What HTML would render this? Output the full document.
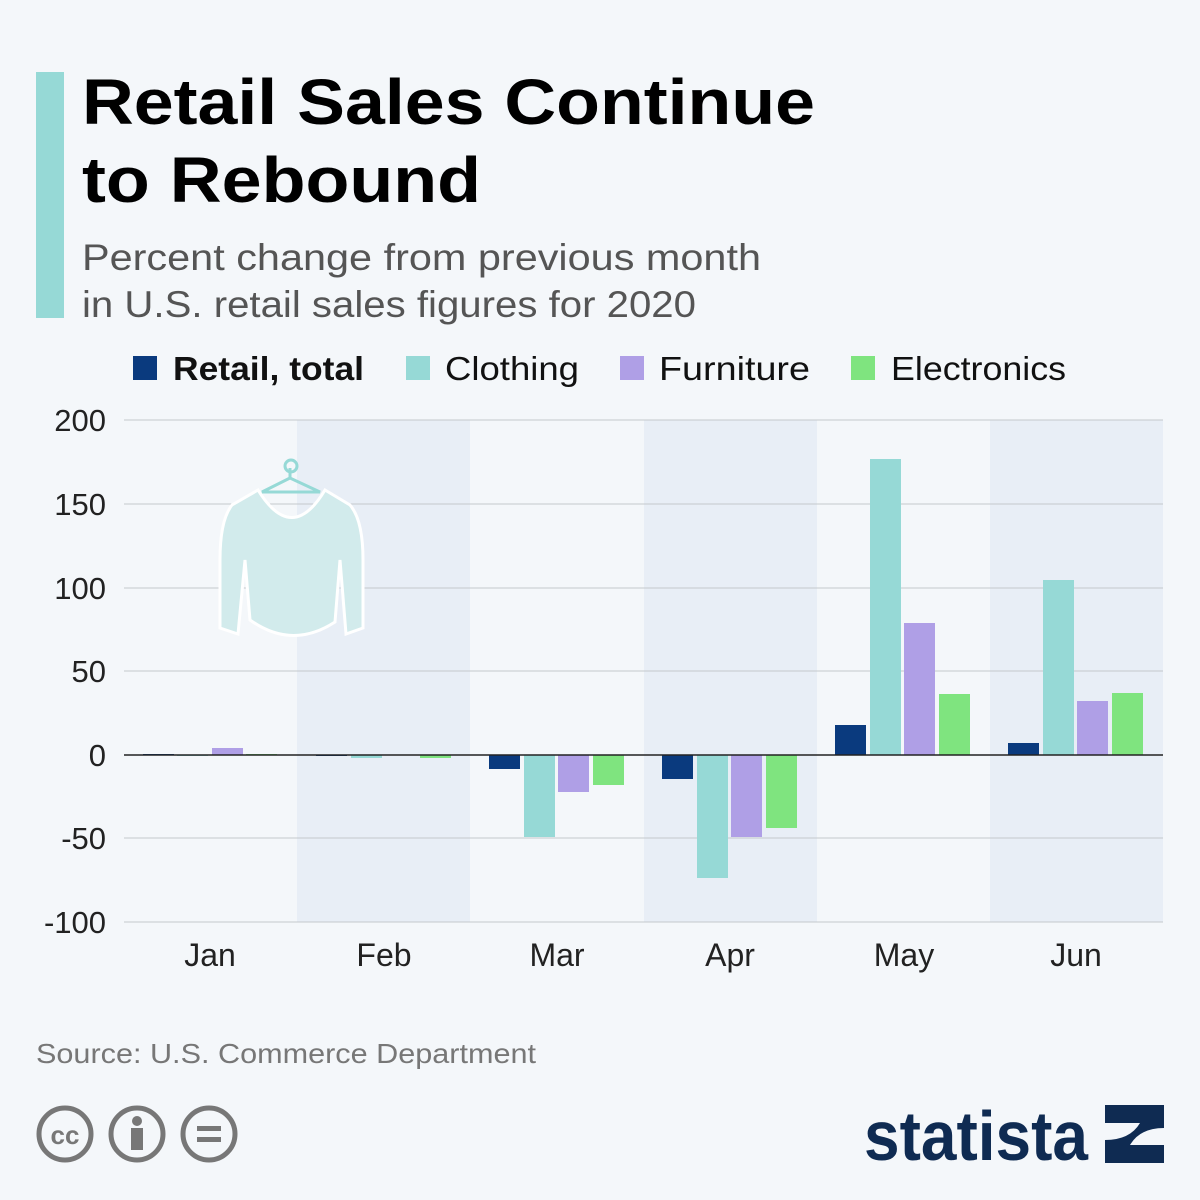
<!DOCTYPE html>
<html><head><meta charset="utf-8"><style>
body{margin:0;width:1200px;height:1200px;background:#f4f7fa;font-family:"Liberation Sans","DejaVu Sans",sans-serif;overflow:hidden}
</style></head><body>
<svg width="1200" height="1200" xmlns="http://www.w3.org/2000/svg" style="position:absolute;left:0;top:0">
<rect width="1200" height="1200" fill="#f4f7fa"/>
<rect x="36" y="72" width="28" height="246" fill="#96d9d6"/>
<text x="82" y="124" font-size="64" font-weight="bold" fill="#000" textLength="733" lengthAdjust="spacingAndGlyphs">Retail Sales Continue</text>
<text x="82" y="202" font-size="64" font-weight="bold" fill="#000" textLength="399" lengthAdjust="spacingAndGlyphs">to Rebound</text>
<text x="82" y="270" font-size="37" fill="#555" textLength="679" lengthAdjust="spacingAndGlyphs">Percent change from previous month</text>
<text x="82" y="317" font-size="37" fill="#555" textLength="614" lengthAdjust="spacingAndGlyphs">in U.S. retail sales figures for 2020</text>
<rect x="133" y="356" width="24" height="24" fill="#0a3a7e"/>
<text x="173" y="380" font-size="33" font-weight="bold" fill="#111" textLength="191" lengthAdjust="spacingAndGlyphs">Retail, total</text>
<rect x="406" y="356" width="24" height="24" fill="#96d9d6"/>
<text x="445" y="380" font-size="33" fill="#111" textLength="134" lengthAdjust="spacingAndGlyphs">Clothing</text>
<rect x="620" y="356" width="24" height="24" fill="#af9fe6"/>
<text x="659" y="380" font-size="33" fill="#111" textLength="151" lengthAdjust="spacingAndGlyphs">Furniture</text>
<rect x="851" y="356" width="24" height="24" fill="#7fe47f"/>
<text x="891" y="380" font-size="33" fill="#111" textLength="175" lengthAdjust="spacingAndGlyphs">Electronics</text>
<rect x="297" y="420" width="173" height="502" fill="#e8eef6"/>
<rect x="644" y="420" width="173" height="502" fill="#e8eef6"/>
<rect x="990" y="420" width="173" height="502" fill="#e8eef6"/>
<g stroke="#c4c8cc" stroke-width="1">
<line x1="124" x2="1163" y1="420" y2="420"/><line x1="124" x2="1163" y1="504" y2="504"/>
<line x1="124" x2="1163" y1="588" y2="588"/><line x1="124" x2="1163" y1="671" y2="671"/>
<line x1="124" x2="1163" y1="838" y2="838"/><line x1="124" x2="1163" y1="922" y2="922"/>
</g>
<g font-size="31" fill="#222" text-anchor="end">
<text x="106" y="431">200</text><text x="106" y="515">150</text><text x="106" y="599">100</text>
<text x="106" y="682">50</text><text x="106" y="766">0</text><text x="106" y="849">-50</text><text x="106" y="933">-100</text>
</g>
<g font-size="32" fill="#222" text-anchor="middle">
<text x="210" y="966">Jan</text><text x="384" y="966">Feb</text><text x="557" y="966">Mar</text>
<text x="730" y="966">Apr</text><text x="904" y="966">May</text><text x="1076" y="966">Jun</text>
</g>
<g stroke="#fff" stroke-width="3" fill="#d2ebec">
<path d="M258 490 L232 505 Q220 520 220 560 L220 628 L238 634 L245 560 L250 620 Q292 650 335 622 L340 560 L346 634 L363 628 L363 560 Q363 520 350 505 L325 490 Q292 545 258 490Z"/>
<path d="M290 478 L262 492 L320 492 Z M290 478 L290 468" fill="none" stroke="#96d9d6"/>
<circle cx="291" cy="466" r="6" fill="none" stroke="#96d9d6"/>
</g>
<g>
<rect x="143" y="754" width="31" height="1" fill="#0a3a7e"/>
<rect x="177" y="755" width="31" height="1" fill="#96d9d6"/>
<rect x="212" y="748" width="31" height="7" fill="#af9fe6"/>
<rect x="246" y="754" width="31" height="1" fill="#7fe47f"/>
<rect x="316" y="755" width="31" height="1" fill="#0a3a7e"/>
<rect x="351" y="755" width="31" height="3" fill="#96d9d6"/>
<rect x="420" y="755" width="31" height="3" fill="#7fe47f"/>
<rect x="489" y="755" width="31" height="14" fill="#0a3a7e"/>
<rect x="524" y="755" width="31" height="82" fill="#96d9d6"/>
<rect x="558" y="755" width="31" height="37" fill="#af9fe6"/>
<rect x="593" y="755" width="31" height="30" fill="#7fe47f"/>
<rect x="662" y="755" width="31" height="24" fill="#0a3a7e"/>
<rect x="697" y="755" width="31" height="123" fill="#96d9d6"/>
<rect x="731" y="755" width="31" height="82" fill="#af9fe6"/>
<rect x="766" y="755" width="31" height="73" fill="#7fe47f"/>
<rect x="835" y="725" width="31" height="30" fill="#0a3a7e"/>
<rect x="870" y="459" width="31" height="296" fill="#96d9d6"/>
<rect x="904" y="623" width="31" height="132" fill="#af9fe6"/>
<rect x="939" y="694" width="31" height="61" fill="#7fe47f"/>
<rect x="1008" y="743" width="31" height="12" fill="#0a3a7e"/>
<rect x="1043" y="580" width="31" height="175" fill="#96d9d6"/>
<rect x="1077" y="701" width="31" height="54" fill="#af9fe6"/>
<rect x="1112" y="693" width="31" height="62" fill="#7fe47f"/>
</g>
<line x1="124" x2="1163" y1="755" y2="755" stroke="#222" stroke-width="1.5"/>
<text x="36" y="1063" font-size="28" fill="#777" textLength="500" lengthAdjust="spacingAndGlyphs">Source: U.S. Commerce Department</text>
<g stroke="#777" stroke-width="5" fill="none">
<circle cx="65" cy="1134" r="26"/><circle cx="137" cy="1134" r="26"/><circle cx="209" cy="1134" r="26"/>
</g>
<text x="65" y="1144" font-size="26" font-weight="bold" fill="#777" text-anchor="middle">cc</text>
<circle cx="137" cy="1121" r="5" fill="#777"/><rect x="131" y="1128" width="12" height="22" fill="#777"/>
<rect x="197" y="1126" width="24" height="5" fill="#777"/><rect x="197" y="1137" width="24" height="5" fill="#777"/>
<text x="864" y="1160" font-size="70" font-weight="bold" fill="#0f2b52" textLength="224" lengthAdjust="spacingAndGlyphs">statista</text>
<path d="M1105 1105 H1164 V1128 Q1140 1128 1130 1145 L1164 1145 V1163 H1105 V1140 Q1130 1140 1140 1123 L1105 1123Z" fill="#0f2b52"/>
</svg>
</body></html>
